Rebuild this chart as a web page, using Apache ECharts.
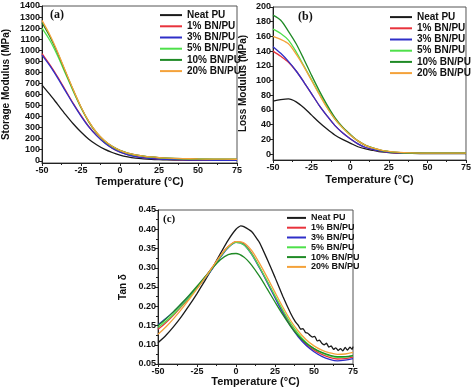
<!DOCTYPE html>
<html><head><meta charset="utf-8">
<script src="https://cdn.jsdelivr.net/npm/echarts@6/dist/echarts.min.js"></script>
<style>html,body{margin:0;padding:0;background:#fff}#c{width:474px;height:390px}</style>
</head><body><div id="c"></div>
<script>
const seriesNames = ['Neat PU','1% BN/PU','3% BN/PU','5% BN/PU','10% BN/PU','20% BN/PU'];
const colors = ['#1a1a1a','#e8333c','#2f2fc8','#4ee04a','#1f8a25','#f4a23a'];

// Panel (a) Storage modulus
const tempA = [-50,-45,-40,-35,-30,-25,-20,-15,-10,-5,0,5,10,15,20,25,30,40,50,60,75];
const storageNeat = [685,600,510,420,335,260,195,145,105,75,52,36,25,18,13,10,8,6,4,3,3];
const storage1 = [970,870,760,640,520,410,310,230,165,115,80,55,39,28,21,16,13,9,7,5,4];
const storage3 = [955,860,750,632,514,405,307,228,163,113,78,54,38,27,20,15,12,8,6,5,4];
const storage5 = [1200,1090,950,790,630,480,350,250,178,128,92,68,52,41,33,27,23,18,15,13,12];
const storage10 = [1250,1125,975,805,640,485,355,255,182,130,94,70,54,43,35,29,25,20,17,15,14];
const storage20 = [1270,1140,985,812,644,487,356,256,183,131,95,70,54,43,35,29,25,20,17,15,14];
const storageTicks = [0,100,200,300,400,500,600,700,800,900,1000,1100,1200,1300,1400];

// Panel (b) Loss modulus
const tempB = [-50,-45,-40,-35,-30,-25,-20,-15,-10,-5,0,5,10,15,20,25,30,40,50,60,75];
const lossNeat = [72,74,75,71,63,53,43,34,26,20,15,10,7,5,3,2,1.5,1,0.8,0.8,0.8];
const loss1 = [140,133,125,113,98,82,66,52,39,29,21,14,9,6,4,2.5,1.8,1.2,1,1,1];
const loss3 = [146,137,126,113,98,82,66,52,39,29,21,14,9,6,4,2.5,1.8,1.2,1,1,1];
const loss5 = [170,164,155,139,120,101,82,64,48,36,26,18,12,8,5,3.5,2.5,1.5,1.2,1.2,1.2];
const loss10 = [189,182,167,150,129,107,86,67,50,37,27,18,12,8,5,3.5,2.5,1.5,1.2,1.2,1.2];
const loss20 = [160,156,150,136,119,100,81,63,48,36,26,18,12,8,5.5,3.8,2.7,1.7,1.3,1.3,1.3];
const lossTicks = [0,20,40,60,80,100,120,140,160,180,200];

// Panel (c) Tan delta
const tempC = [-50,-45,-40,-35,-30,-25,-20,-15,-10,-5,0,5,10,15,20,25,30,35,40,45,50,55,60,65,70,75];
const tanNeatT = [-50,-45,-40,-35,-30,-25,-20,-15,-10,-5,0,3,5,10,15,20,25,30,35,38,40,41.5,43,44.5,46,47.5,49,50.5,52,53.5,55,56.5,58,59.5,61,62.5,64,65.5,67,68.5,70,71.5,73,74.5,75];
const tanNeat = [0.105,0.124,0.147,0.173,0.202,0.233,0.266,0.300,0.337,0.372,0.400,0.409,0.407,0.394,0.366,0.322,0.275,0.226,0.182,0.160,0.150,0.140,0.142,0.132,0.130,0.124,0.120,0.122,0.110,0.112,0.104,0.100,0.104,0.094,0.097,0.088,0.092,0.085,0.090,0.084,0.093,0.086,0.094,0.088,0.095];
const tan1 = [0.140,0.157,0.177,0.199,0.222,0.247,0.274,0.302,0.331,0.355,0.368,0.362,0.338,0.302,0.264,0.225,0.186,0.151,0.123,0.101,0.086,0.075,0.067,0.063,0.064,0.068];
const tan3 = [0.152,0.168,0.186,0.206,0.226,0.248,0.272,0.298,0.327,0.352,0.366,0.360,0.335,0.300,0.262,0.222,0.183,0.148,0.120,0.098,0.082,0.070,0.062,0.058,0.060,0.064];
const tan5 = [0.145,0.161,0.180,0.201,0.223,0.247,0.273,0.300,0.329,0.353,0.366,0.360,0.336,0.302,0.265,0.227,0.190,0.156,0.128,0.106,0.090,0.079,0.071,0.067,0.068,0.072];
const tan10 = [0.150,0.167,0.186,0.207,0.229,0.252,0.276,0.300,0.321,0.334,0.337,0.328,0.307,0.278,0.245,0.211,0.178,0.148,0.123,0.104,0.090,0.080,0.073,0.069,0.069,0.072];
const tan20 = [0.127,0.146,0.168,0.192,0.218,0.245,0.273,0.302,0.331,0.355,0.368,0.365,0.345,0.312,0.275,0.236,0.198,0.163,0.135,0.113,0.097,0.086,0.079,0.075,0.076,0.080];

const FONT = '"Liberation Sans",Arial,sans-serif';
const zip = (xs, ys) => xs.map((x,i)=>[x, ys[i]]);
const LBL = {fontFamily:FONT, fontWeight:'bold', fontSize:9, color:'#111', margin:3};

function xAxis(grid, gap){
  return {type:'value', gridIndex:grid, min:-50, max:75, interval:25,
    name:'Temperature (°C)', nameLocation:'middle', nameGap:gap,
    nameTextStyle:{fontFamily:FONT, fontWeight:'bold', fontSize:11, color:'#111'},
    axisLine:{onZero:false, lineStyle:{color:'#222', width:1}},
    axisTick:{show:true, length:3, lineStyle:{color:'#222'}},
    minorTick:{show:true, splitNumber:2, length:2, lineStyle:{color:'#222'}},
    axisLabel:Object.assign({formatter:v=>String(v)}, LBL),
    splitLine:{show:false}};
}
function yAxis(grid, o, ticks, fmt){
  const a = {type:'value', gridIndex:grid, nameLocation:'middle',
    nameTextStyle:{fontFamily:FONT, fontWeight:'bold', fontSize:10, color:'#111'},
    axisLine:{show:true, onZero:false, lineStyle:{color:'#222', width:1}},
    axisTick:{show:true, length:3, lineStyle:{color:'#222'}},
    axisLabel:Object.assign({margin:2}, LBL, {margin:2}),
    splitLine:{show:false}};
  if (ticks){ a.axisTick.customValues = ticks; a.axisLabel.customValues = ticks; }
  else { a.minorTick = {show:true, splitNumber:2, length:2, lineStyle:{color:'#222'}}; }
  a.axisLabel.formatter = fmt || (v=>String(v));
  return Object.assign(a, o);
}

const series = [];
function addSet(grid, sets){
  sets.forEach((pts,i)=>{
    series.push({type:'line', name:seriesNames[i], xAxisIndex:grid, yAxisIndex:grid,
      data:pts, smooth:0.3, showSymbol:false, symbol:'none',
      lineStyle:{width:1.3, color:colors[i]}, itemStyle:{color:colors[i]}});
  });
}
addSet(0, [zip(tempA,storageNeat), zip(tempA,storage1), zip(tempA,storage3), zip(tempA,storage5), zip(tempA,storage10), zip(tempA,storage20)]);
addSet(1, [zip(tempB,lossNeat), zip(tempB,loss1), zip(tempB,loss3), zip(tempB,loss5), zip(tempB,loss10), zip(tempB,loss20)]);
addSet(2, [zip(tanNeatT,tanNeat), zip(tempC,tan1), zip(tempC,tan3), zip(tempC,tan5), zip(tempC,tan10), zip(tempC,tan20)]);
series[12].smooth = 0.15;

function legend(left, top, fs, gap, w){
  return {orient:'vertical', left:left, top:top, itemWidth:w, itemHeight:2, itemGap:0,
    icon:'rect', data:seriesNames, selectedMode:false, padding:0,
    textStyle:{fontFamily:FONT, fontWeight:'bold', fontSize:fs, color:'#111', lineHeight:gap}};
}

const chart = echarts.init(document.getElementById('c'), null, {renderer:'canvas'});
chart.setOption({
  animation:false,
  backgroundColor:'#fff',
  grid:[
    {left:39, top:6, width:198, height:157, show:true, borderColor:'#555', borderWidth:1},
    {left:273, top:7, width:193, height:153, show:true, borderColor:'#555', borderWidth:1},
    {left:158, top:210, width:195, height:154, show:true, borderColor:'#555', borderWidth:1}
  ],
  xAxis:[xAxis(0,13), xAxis(1,14), xAxis(2,11)],
  yAxis:[
    yAxis(0,{min:-20, max:1400, name:'Storage Modulus (MPa)', nameGap:31}, storageTicks),
    yAxis(1,{min:-8, max:200, name:'Loss Modulus (MPa)', nameGap:25}, lossTicks),
    yAxis(2,{min:0.05, max:0.45, interval:0.05, name:'Tan δ', nameGap:30}, null, v=>v.toFixed(2))
  ],
  legend:[legend(160, 9.5, 10, 11.2, 22), legend(390, 11.5, 10, 11.2, 22), legend(287, 213, 9, 9.8, 19)],
  graphic:[
    {type:'text', left:50, top:9, style:{text:'(a)', font:'bold 12px "Liberation Serif", serif', fill:'#111'}},
    {type:'text', left:298, top:11, style:{text:'(b)', font:'bold 12px "Liberation Serif", serif', fill:'#111'}},
    {type:'text', left:163, top:214, style:{text:'(c)', font:'bold 11px "Liberation Serif", serif', fill:'#111'}}
  ],
  series:series
});
</script></body></html>
